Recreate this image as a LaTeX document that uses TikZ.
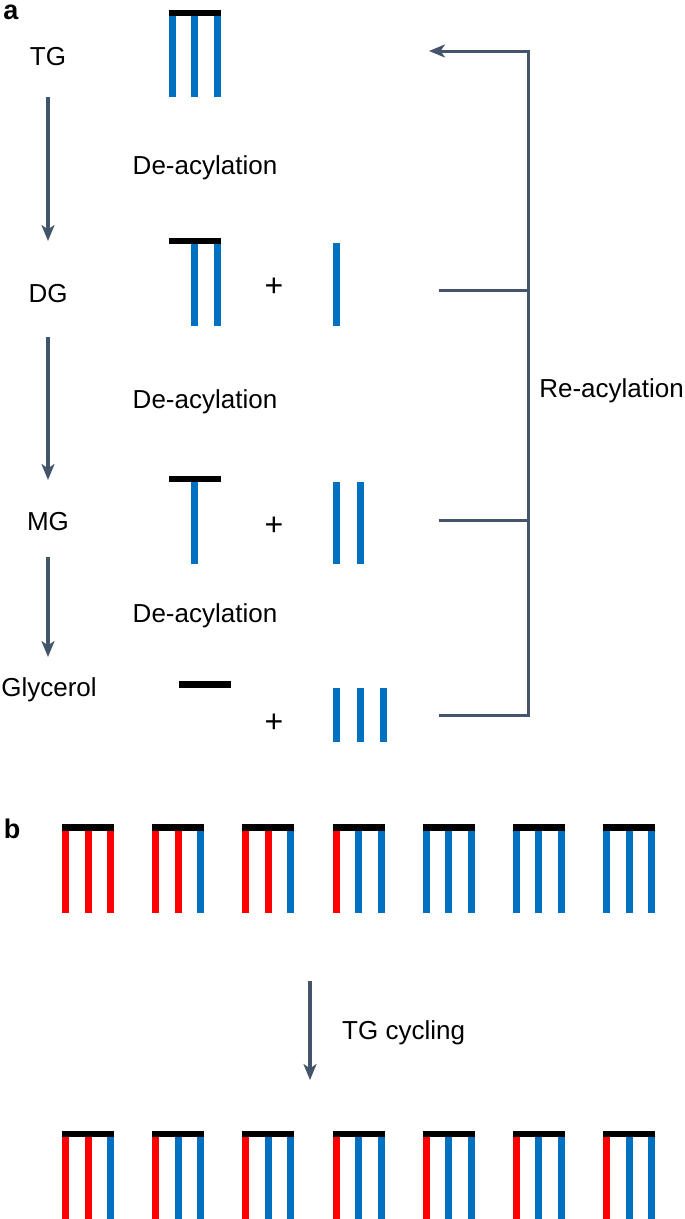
\documentclass[tikz,border=0pt]{standalone}
\usepackage{fontspec}
\setmainfont{Liberation Sans}
\usetikzlibrary{arrows.meta}
\definecolor{acblue}{RGB}{0,112,192}
\definecolor{acred}{RGB}{255,0,0}
\definecolor{arrgray}{RGB}{68,84,106}
% #1 left x, #2 bar top, #3 bar bottom, #4 chain bottom, #5-#7 chain colours
\newcommand\tgmol[7]{%
  \fill[black] (#1,#2) rectangle (#1+52,#3);
  \fill[#5] (#1,#3) rectangle (#1+7,#4);
  \fill[#6] (#1+22.5,#3) rectangle (#1+29.5,#4);
  \fill[#7] (#1+45,#3) rectangle (#1+52,#4);}
\newcommand\freechain[3]{\fill[acblue] (#1-3.5,#2) rectangle (#1+3.5,#3);}
\begin{document}
\begin{tikzpicture}[x=1pt,y=-1pt,
  lbl/.style={font=\fontsize{26}{29}\selectfont, inner sep=0pt},
  panel/.style={font=\fontsize{27}{30}\selectfont\bfseries, inner sep=0pt},
  plus/.style={font=\fontsize{32}{34}\selectfont, inner sep=0pt},
  tip/.style={-{Stealth[length=16pt,width=13pt,inset=4.5pt]}},
  flow/.style={draw=arrgray, line width=3.6pt, tip},
  link/.style={draw=arrgray, line width=3pt}]
\useasboundingbox (0,0) rectangle (685,1219);
\fill[white] (0,0) rectangle (685,1219);

% ---------- panel a ----------
\node[panel] (pa) at (11,12) {a};
\node[lbl] (tg) at (48,57) {TG};
\node[lbl] (dg) at (48,294) {DG};
\node[lbl] (mg) at (48,522) {MG};
\node[lbl] (gly) at (49,690) {Glycerol};

\coordinate (a1s) at (48,97);   \coordinate (a1e) at (48,241);
\coordinate (a2s) at (48,337);  \coordinate (a2e) at (48,480);
\coordinate (a3s) at (48,557);  \coordinate (a3e) at (48,657);
\draw[flow] (a1s) -- (a1e);
\draw[flow] (a2s) -- (a2e);
\draw[flow] (a3s) -- (a3e);

\node[lbl] (de1) at (205,168) {De-acylation};
\node[lbl] (de2) at (205,402) {De-acylation};
\node[lbl] (de3) at (205,616) {De-acylation};

% TG
\tgmol{168.5}{10}{16}{97}{acblue}{acblue}{acblue}
% DG
\fill[black] (168.5,238) rectangle (220.5,244);
\fill[acblue] (190.5,244) rectangle (197.5,326);
\fill[acblue] (213.5,244) rectangle (220.5,326);
\node[plus] (p1) at (274,287) {+};
\freechain{336}{243}{326}
% MG
\fill[black] (168.5,476) rectangle (220.5,482);
\fill[acblue] (190.5,482) rectangle (197.5,564);
\node[plus] (p2) at (274,526) {+};
\freechain{336}{482}{564}
\freechain{360}{482}{564}
% Glycerol
\fill[black] (179,681) rectangle (231,688);
\node[plus] (p3) at (274,723) {+};
\freechain{336}{688}{742}
\freechain{360}{688}{742}
\freechain{383}{688}{742}

% re-acylation bracket
\coordinate (rtop) at (528,51);
\coordinate (rtip) at (429,51);
\coordinate (rdg) at (439,290);
\coordinate (rmg) at (439,520);
\coordinate (rgl) at (439,715);
\coordinate (rbot) at (528,715);
\coordinate (rj1) at (528,290);
\coordinate (rj2) at (528,520);
\draw[link, line join=miter, tip] (rgl) -- (rbot) -- (rtop) -- (rtip);
\draw[link] (rdg) -- (rj1);
\draw[link] (rmg) -- (rj2);
\node[lbl, anchor=east] (re) at (684,391) {Re-acylation};

% ---------- panel b ----------
\node[panel] (pb) at (12,829) {b};
\tgmol{62}{824}{831}{913}{acred}{acred}{acred}
\tgmol{152}{824}{831}{913}{acred}{acred}{acblue}
\tgmol{242}{824}{831}{913}{acred}{acred}{acblue}
\tgmol{332.5}{824}{831}{913}{acred}{acblue}{acblue}
\tgmol{422.5}{824}{831}{913}{acblue}{acblue}{acblue}
\tgmol{512.5}{824}{831}{913}{acblue}{acblue}{acblue}
\tgmol{603}{824}{831}{913}{acblue}{acblue}{acblue}

\coordinate (cs) at (310,981);
\coordinate (ce) at (310,1080);
\draw[flow] (cs) -- (ce);
\node[lbl, anchor=west] (cyc) at (342,1033) {TG cycling};

\tgmol{62}{1131}{1137}{1219}{acred}{acred}{acblue}
\tgmol{152}{1131}{1137}{1219}{acred}{acblue}{acblue}
\tgmol{242}{1131}{1137}{1219}{acred}{acblue}{acblue}
\tgmol{332.5}{1131}{1137}{1219}{acred}{acblue}{acblue}
\tgmol{422.5}{1131}{1137}{1219}{acred}{acblue}{acblue}
\tgmol{512.5}{1131}{1137}{1219}{acred}{acblue}{acblue}
\tgmol{603}{1131}{1137}{1219}{acred}{acblue}{acblue}
\end{tikzpicture}
\end{document}
